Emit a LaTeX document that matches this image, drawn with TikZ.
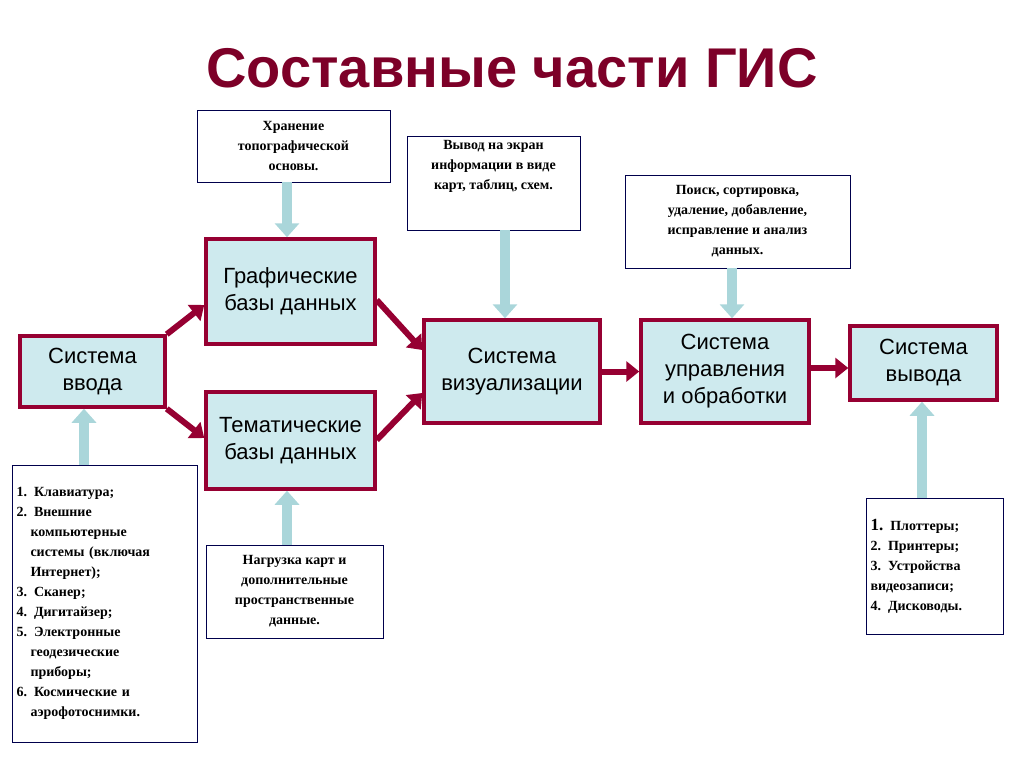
\documentclass[tikz,border=0pt]{standalone}
\usepackage{fontspec}
\setmainfont{Liberation Serif}
\newfontfamily\sansf{Liberation Sans}
\usetikzlibrary{arrows.meta}
\definecolor{wine}{RGB}{150,0,50}
\definecolor{darkwine}{RGB}{125,0,40}
\definecolor{lightcyan}{RGB}{206,234,238}
\definecolor{paleblue}{RGB}{170,214,218}
\tikzset{
  sysbox/.style={draw=wine,line width=3.5pt,fill=lightcyan,font=\sansf\fontsize{22}{27}\selectfont,align=center,inner sep=0pt},
  notebox/.style={draw=black!70!blue,line width=0.8pt,fill=white,font=\bfseries\fontsize{14}{20}\selectfont,align=center,inner sep=0pt},
  listbox/.style={notebox,align=left},
  redarrow/.style={draw=wine,line width=6pt,-{Triangle[length=13pt,width=20pt]}},
  bluearrow/.style={draw=paleblue,line width=10pt,-{Triangle[length=14pt,width=24pt]}}
}
\begin{document}
\begin{tikzpicture}[x=1pt,y=-1pt]
\useasboundingbox (0,0) rectangle (1024,768);
\node[font=\sansf\bfseries\fontsize{56}{66}\selectfont,text=darkwine](title) at (512,68){Составные части ГИС};
% top notes
\node[notebox,minimum width=193pt,minimum height=72pt](store) at (293.5,146){Хранение\\топографической\\основы.};
\node[notebox,minimum width=173pt,minimum height=94pt](show) at (493.5,183){Вывод на экран\\информации в виде\\карт, таблиц, схем.\\[16pt]};
\node[notebox,minimum width=225pt,minimum height=93pt](search) at (737.5,221.5){Поиск, сортировка,\\удаление, добавление,\\исправление и анализ\\данных.};
% systems
\node[sysbox,minimum width=169pt,minimum height=105pt](graph) at (290.5,291.5){Графические\\базы данных};
\node[sysbox,minimum width=169pt,minimum height=97pt](theme) at (290.5,440.5){Тематические\\базы данных};
\node[sysbox,minimum width=145pt,minimum height=71pt](input) at (92.5,371.5){Система\\ввода};
\node[sysbox,minimum width=176pt,minimum height=103pt](visual) at (512,371.5){Система\\визуализации};
\node[sysbox,minimum width=168pt,minimum height=103pt](control) at (725,371.5){Система\\управления\\и обработки};
\node[sysbox,minimum width=147pt,minimum height=74pt](output) at (923.5,363){Система\\вывода};
% bottom notes
\node[listbox,minimum width=185pt,minimum height=277pt,text width=176pt](inlist) at (104.5,603.5){1.\enspace Клавиатура;\\2.\enspace Внешние\\\hspace*{14pt}компьютерные\\\hspace*{14pt}системы (включая\\\hspace*{14pt}Интернет);\\3.\enspace Сканер;\\4.\enspace Дигитайзер;\\5.\enspace Электронные\\\hspace*{14pt}геодезические\\\hspace*{14pt}приборы;\\6.\enspace Космические и\\\hspace*{14pt}аэрофотоснимки.\\[34pt]};
\node[notebox,minimum width=177pt,minimum height=93pt](load) at (294.5,591.5){Нагрузка карт и\\дополнительные\\пространственные\\данные.};
\node[listbox,minimum width=137pt,minimum height=136pt,text width=128pt](outlist) at (934.5,566){{\fontsize{17}{19}\selectfont 1.}\enspace Плоттеры;\\2.\enspace Принтеры;\\3.\enspace Устройства\\видеозаписи;\\4.\enspace Дисководы.\\[14pt]};
% arrows
\draw[redarrow] (input.north east) -- (graph.west |- 0,305);
\draw[redarrow] (input.south east) -- (theme.west |- 0,438);
\draw[redarrow] (graph.east |- 0,300) -- (visual.west |- 0,350);
\draw[redarrow] (theme.east |- 0,440) -- (visual.west |- 0,393);
\draw[redarrow] (visual) -- (control);
\draw[redarrow] (control.east |- 0,368) -- (output.west |- 0,368);
\draw[bluearrow] (store.south -| 287,0) -- (graph.north -| 287,0);
\draw[bluearrow] (show.south -| 505,0) -- (visual.north -| 505,0);
\draw[bluearrow] (search.south -| 732,0) -- (control.north -| 732,0);
\draw[bluearrow] (load.north -| 287,0) -- (theme.south -| 287,0);
\draw[bluearrow] (inlist.north -| 84,0) -- (input.south -| 84,0);
\draw[bluearrow] (outlist.north -| 922,0) -- (output.south -| 922,0);
\end{tikzpicture}
\end{document}
